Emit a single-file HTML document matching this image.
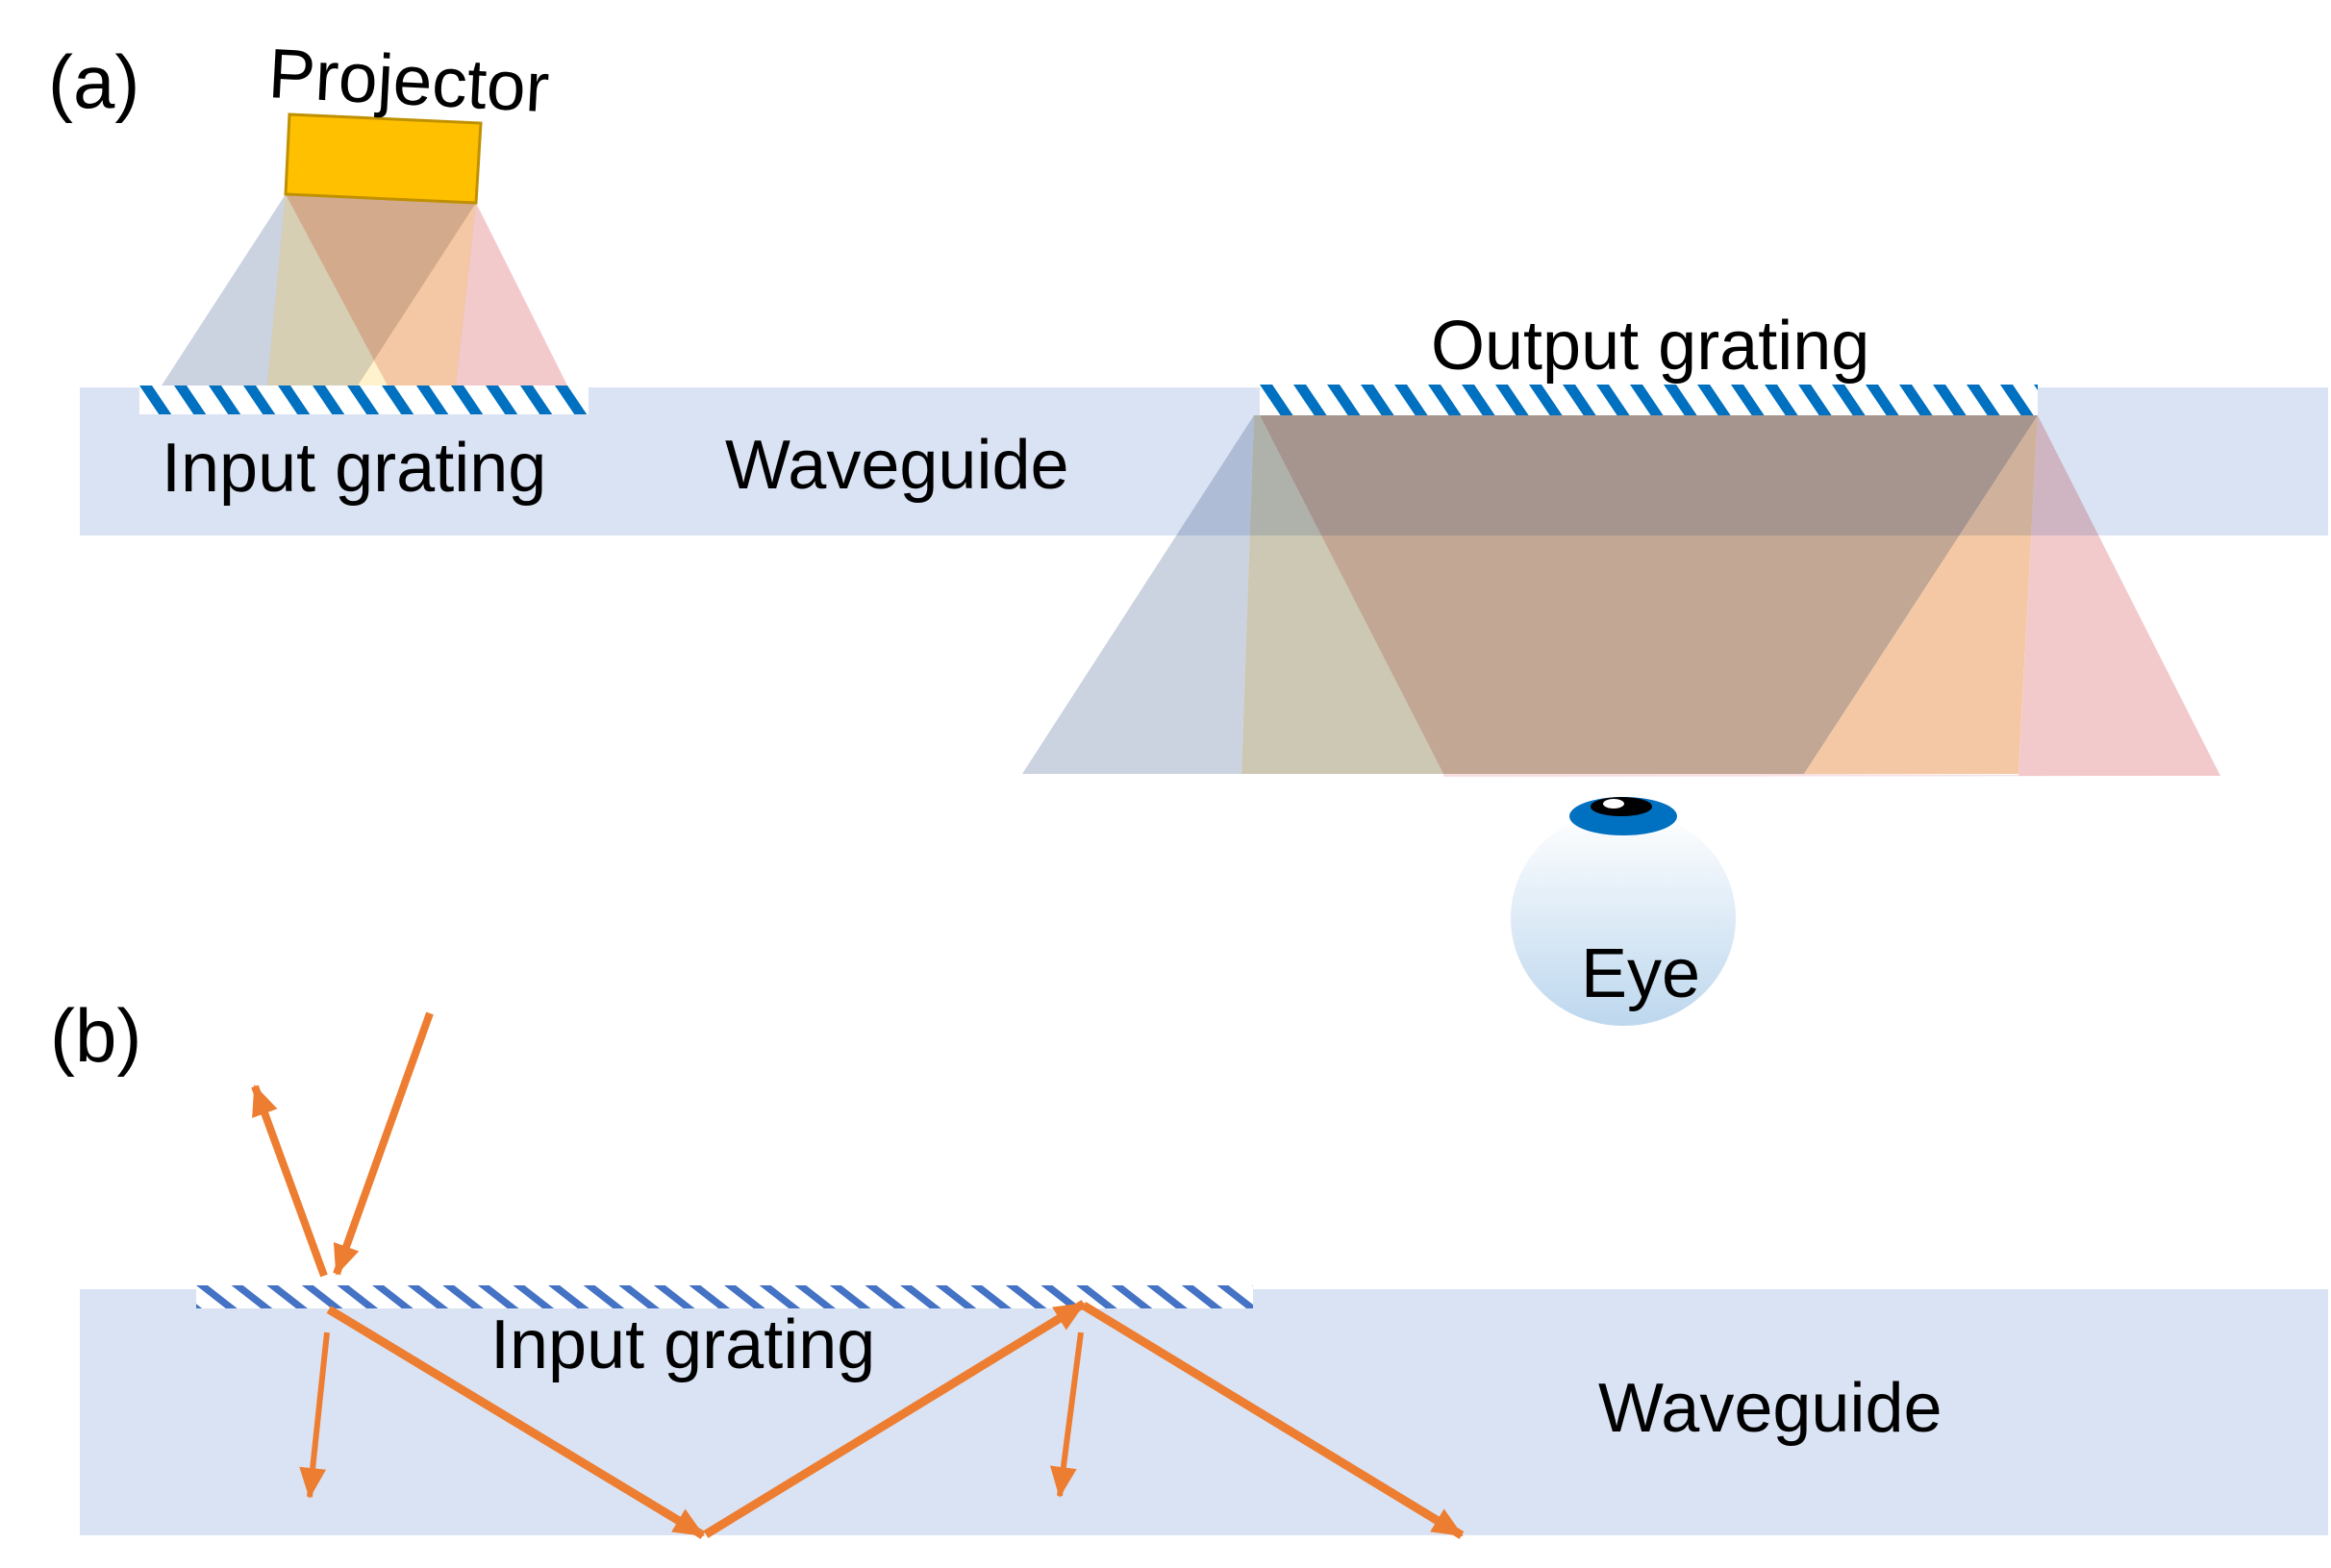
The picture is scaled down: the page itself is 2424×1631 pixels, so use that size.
<!DOCTYPE html>
<html><head><meta charset="utf-8"><style>
html,body{margin:0;padding:0;background:#fff;}
svg{display:block;}
text{font-family:"Liberation Sans",Arial,sans-serif;fill:#000;}
</style></head><body>
<svg width="2424" height="1631" viewBox="0 0 2424 1631" xmlns="http://www.w3.org/2000/svg">
<defs>
<pattern id="hA" patternUnits="userSpaceOnUse" width="36" height="40" patternTransform="translate(145,401) skewX(34)">
<rect width="36" height="40" fill="#fff"/><rect x="0" width="13" height="40" fill="#0070C0"/>
</pattern>
<pattern id="hO" patternUnits="userSpaceOnUse" width="35" height="40" patternTransform="translate(1310,400) skewX(34)">
<rect width="35" height="40" fill="#fff"/><rect x="0" width="13" height="40" fill="#0070C0"/>
</pattern>
<pattern id="hB" patternUnits="userSpaceOnUse" width="36.6" height="30" patternTransform="translate(204,1337) skewX(52)">
<rect width="36.6" height="30" fill="#fff"/><rect x="0" width="12" height="30" fill="#4472C4"/>
</pattern>
<linearGradient id="eyeG" x1="0" y1="0" x2="0" y2="1">
<stop offset="0" stop-color="#ffffff"/><stop offset="1" stop-color="#BDD7EE"/>
</linearGradient>
<marker id="ah" markerUnits="userSpaceOnUse" markerWidth="40" markerHeight="40" refX="30" refY="14" orient="auto">
<path d="M0,0 L32,14 L0,28 Z" fill="#ED7D31"/>
</marker>
</defs>

<!-- (a) input cones -->
<polygon points="297,202 168,401 403,401" fill="#CCD3E0"/>
<polygon points="495,211 372,401 590,401" fill="#F2CACC"/>
<polygon points="297,202 495,211 474,401 278,401" fill="#D3AB8C"/>
<polygon points="297,202 278,401 403,401" fill="#D6CFB3"/>
<polygon points="495,211 372,401 474,401" fill="#F4C8A4"/>
<polygon points="389,375 372,401 403,401" fill="#FFF2CC"/>

<!-- projector -->
<polygon points="301,119 500,128 495,211 297,202" fill="#FFC000" stroke="#BF9000" stroke-width="3"/>

<!-- output cones -->
<polygon points="1304,432 1063,805 1291,805" fill="#CCD3E0"/>
<polygon points="1304,432 1310,432 1501,805 1291,805" fill="#CCC8B4"/>
<polygon points="1310,432 2119,432 1876,805 1501,805" fill="#C2A795"/>
<polygon points="2119,432 1876,805 2099,805" fill="#F4C8A4"/>
<polygon points="2119,432 2309,807 2099,807" fill="#F2CACC"/>
<polygon points="1501,805 1876,805 2309,807 1501,808" fill="#F2CACC" opacity="0.6"/>

<!-- waveguide (a) -->
<rect x="83" y="403" width="2338" height="154" fill="#DAE3F3" style="mix-blend-mode:multiply"/>
<rect x="145" y="401" width="467" height="30" fill="url(#hA)"/>
<rect x="1310" y="400" width="809" height="32" fill="url(#hO)"/>

<!-- eye -->
<ellipse cx="1688" cy="955" rx="117" ry="112" fill="url(#eyeG)"/>
<ellipse cx="1688" cy="849" rx="56" ry="20" fill="#0070C0"/>
<ellipse cx="1686" cy="839" rx="32" ry="10" fill="#000"/>
<ellipse cx="1678" cy="836" rx="11" ry="5" fill="#fff"/>

<!-- labels (a) -->
<text x="50" y="112" font-size="78">(a)</text>
<text x="278" y="101" font-size="73" transform="rotate(3 278 101)">Projector</text>
<text x="168" y="511" font-size="72">Input grating</text>
<text x="754" y="508" font-size="72">Waveguide</text>
<text x="1488" y="384" font-size="72">Output grating</text>
<text x="1644" y="1037" font-size="72">Eye</text>

<!-- (b) -->
<text x="52" y="1104" font-size="78">(b)</text>
<rect x="83" y="1341" width="2338" height="256" fill="#DAE3F3"/>
<rect x="204" y="1337" width="1099" height="24" fill="url(#hB)"/>
<text x="510" y="1423" font-size="72">Input grating</text>
<text x="1662" y="1489" font-size="72">Waveguide</text>

<g stroke="#ED7D31" fill="none" marker-end="url(#ah)">
<line x1="447" y1="1054" x2="350" y2="1325" stroke-width="8"/>
<line x1="337" y1="1327" x2="265" y2="1130" stroke-width="8"/>
<line x1="342" y1="1362" x2="731" y2="1597" stroke-width="9"/>
<line x1="734" y1="1596" x2="1127" y2="1356" stroke-width="9"/>
<line x1="1127" y1="1358" x2="1520" y2="1597" stroke-width="9"/>
<line x1="340" y1="1386" x2="322" y2="1557" stroke-width="6"/>
<line x1="1124" y1="1386" x2="1102" y2="1556" stroke-width="6"/>
</g>
</svg>
</body></html>
